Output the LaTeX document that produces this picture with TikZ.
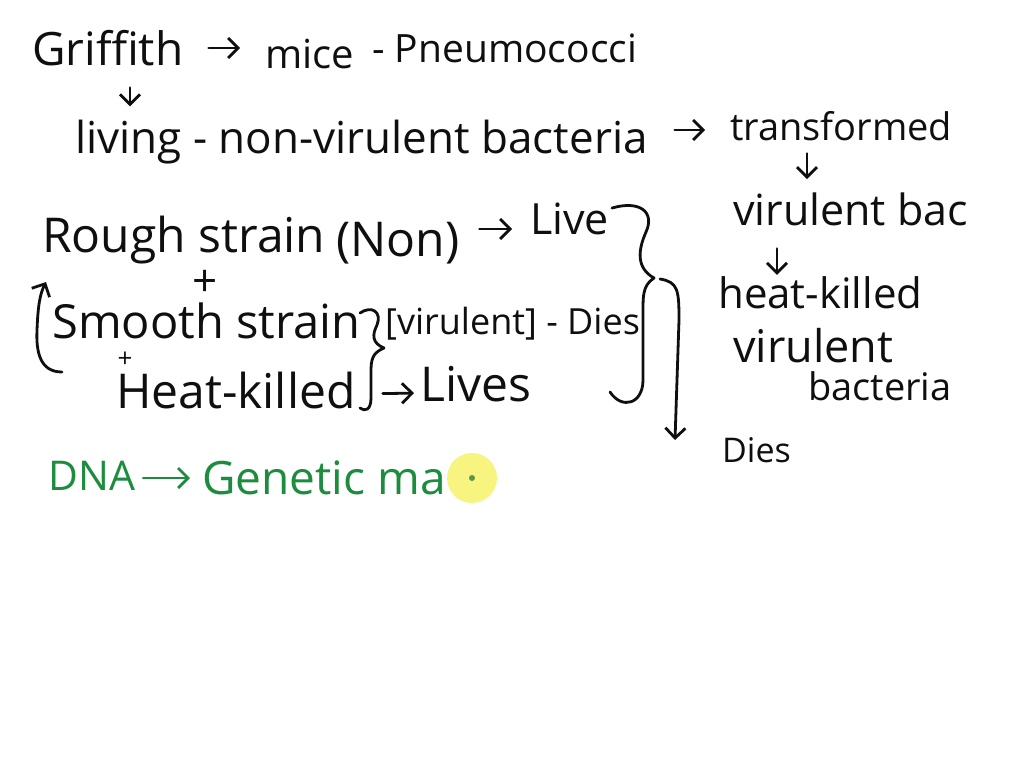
\documentclass[tikz,border=0pt]{standalone}
\usepackage{fontspec}
\setmainfont{Open Sans}
\usetikzlibrary{arrows.meta}
\definecolor{ink}{RGB}{15,15,15}
\definecolor{penGreen}{RGB}{28,140,62}
\definecolor{hiYellow}{RGB}{246,242,95}
\tikzset{
  txt/.style={inner sep=0pt, anchor=base west, text=ink},
  fs/.style={font=\fontsize{#1}{#1}\selectfont},
  arr/.style={draw=ink, line width=2.8pt, line cap=round, line join=round,
    -{Straight Barb[length=10pt,width=20pt]}},
  pen/.style={draw=ink, line width=2.8pt, line cap=round, line join=round},
}
\begin{document}
\begin{tikzpicture}[x=1pt,y=-1pt]
\fill[white] (0,0) rectangle (1024,768);
\useasboundingbox (0,0) rectangle (1024,768);

% top lines
\node[txt, fs=46] (griffith) at (32,65) {Griffith};
\node[txt, fs=40] (mice) at (265,68) {mice};
\node[txt, fs=39] (pneu) at (372,63) {- Pneumococci};
\node[txt, fs=44] (living) at (75,153) {living - non-virulent bacteria};
\node[txt, fs=38] (transformed) at (730,140) {transformed};

% right column
\node[txt, fs=43] (virbac) at (733,225) {virulent bac};
\node[txt, fs=42] (heatk) at (718,308) {heat-killed};
\node[txt, fs=45] (virulent2) at (733,362) {virulent};
\node[txt, fs=38] (bacteria2) at (808,400) {bacteria};
\node[txt, fs=34] (dies2) at (722,462) {Dies};

% experiment block
\node[txt, fs=48] (rough) at (42,252) {Rough strain};
\node[txt, fs=48] (non) at (336,256) {(Non)};
\node[txt, fs=43] (live) at (530,234) {Live};
\node[inner sep=0pt, fs=44, text=ink] (plus1) at (205,283) {+};
\node[txt, fs=47] (smooth) at (52,338) {Smooth strain};
\node[txt, fs=36] (viru) at (385,334) {[virulent] - Dies};
\node[inner sep=0pt, fs=26, text=ink] (plus2) at (125,360) {+};
\node[txt, fs=48] (heat) at (116,408) {Heat-killed};
\node[txt, fs=48] (lives) at (420,401) {Lives};

% green line
\node[txt, fs=41, text=penGreen] (dna) at (48,490) {DNA};
\node[txt, fs=46, text=penGreen] (genetic) at (202,494) {Genetic ma};

% connectors
\draw[arr, shorten <=25pt, shorten >=25pt] ([yshift=17pt]griffith.base east) -- ([yshift=20pt]mice.base west);
\draw[arr, shorten <=22pt, shorten >=13pt] (griffith.south -| 130,0) -- (living.north -| 130,0);
\draw[arr, shorten <=27pt, shorten >=25pt] ([yshift=23pt]living.base east) -- ([yshift=10pt]transformed.base west);
\draw[arr, shorten <=13pt, shorten >=13pt] (transformed.south -| 807,0) -- (virbac.north -| 807,0);
\draw[arr, shorten <=23pt, shorten >=1pt] (virbac.south -| 777,0) -- (heatk.north -| 777,0);
\draw[arr, shorten <=20pt, shorten >=18pt] ([yshift=27pt]non.base east) -- ([yshift=5pt]live.base west);
\draw[arr, shorten <=27pt, shorten >=6pt] ([yshift=14pt]heat.base east) -- ([yshift=8pt]lives.base west);
\draw[arr, draw=penGreen, shorten <=8pt, shorten >=12pt] ([yshift=12pt]dna.base east) -- ([yshift=16pt]genetic.base west);

% big right brace
\draw[pen] (612,208) .. controls (640,200) and (655,212) .. (646,232)
  .. controls (638,250) and (636,268) .. (654,278)
  .. controls (642,286) and (643,296) .. (643,320) -- (643,380)
  .. controls (643,404) and (622,410) .. (610,392);
% bracket arrow down to Dies
\draw[arr] (660,279) .. controls (678,282) and (679,290) .. (679,320) -- (675,440);
% left paren arrow up to Rough
\draw[arr] (62,372) .. controls (40,372) and (36,352) .. (37,330)
  .. controls (38,305) and (40,294) .. (46,282);
% small brace after strain
\draw[pen] (360,313) .. controls (372,305) and (382,312) .. (377,325)
  .. controls (372,335) and (372,343) .. (384,348)
  .. controls (372,353) and (371,360) .. (371,372) -- (371,398)
  .. controls (371,410) and (365,412) .. (360,408);

% pointer highlight
\fill[hiYellow, opacity=0.8] (472,478) circle (25);
\fill[penGreen!80!black, opacity=0.7] (472,478) circle (3);
\end{tikzpicture}
\end{document}
